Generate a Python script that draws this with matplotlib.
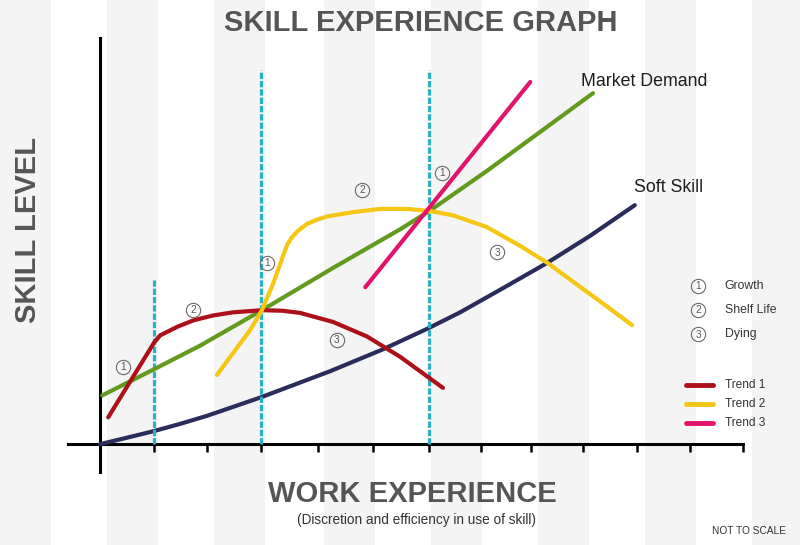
import matplotlib
matplotlib.use("Agg")
import matplotlib.pyplot as plt
from matplotlib import font_manager
from matplotlib.patches import Rectangle

# ---------------- data (chart units: 1 unit = one x tick) ----------------
tick_x = [1.01, 2.00, 3.00, 4.07, 5.10, 6.14, 7.11, 8.04, 9.01, 10.02, 11.01, 12.00]
phase_x = [1.01, 3.00, 6.14]
phase_top = [3.06, 6.98, 6.98]

market_x = [0.04, 1.01, 1.87, 3.02, 4.35, 5.60, 6.16, 7.22, 8.45, 9.20]
market_y = [0.91, 1.40, 1.84, 2.50, 3.29, 4.01, 4.36, 5.10, 6.00, 6.55]

soft_x = [0.00, 0.50, 0.99, 1.50, 2.00, 2.99, 4.29, 5.28, 6.12, 6.72, 7.50, 8.34, 9.15, 9.98]
soft_y = [0.00, 0.12, 0.24, 0.38, 0.53, 0.87, 1.36, 1.77, 2.16, 2.46, 2.90, 3.38, 3.89, 4.46]

trend1_x = [0.15, 1.01, 1.12, 1.44, 1.74, 2.10, 2.48, 3.02, 3.40, 3.73, 4.35, 4.98, 5.60, 6.40]
trend1_y = [0.50, 1.90, 2.03, 2.19, 2.31, 2.40, 2.46, 2.50, 2.49, 2.45, 2.28, 2.01, 1.63, 1.05]

trend2_x = [2.18, 2.48, 2.80, 3.02, 3.23, 3.42, 3.49, 3.58, 3.68, 3.86, 4.05, 4.24, 4.72, 5.23,
            5.73, 6.16, 6.59, 7.22, 7.84, 8.34, 8.83, 9.46, 9.93]
trend2_y = [1.29, 1.70, 2.13, 2.50, 3.00, 3.53, 3.72, 3.86, 3.97, 4.11, 4.19, 4.25, 4.33, 4.39,
            4.39, 4.35, 4.27, 4.05, 3.70, 3.39, 3.03, 2.57, 2.22]

trend3_x = [4.95, 8.03]
trend3_y = [2.93, 6.76]

stage_num = ["1", "2", "1", "2", "3", "1", "3"]
stage_x = [0.43, 1.74, 3.12, 4.89, 4.42, 6.38, 7.41]
stage_y = [1.44, 2.50, 3.38, 4.74, 1.94, 5.06, 3.58]

stage_legend_num = ["1", "2", "3"]
stage_legend_txt = ["Growth", "Shelf Life", "Dying"]
trend_names = ["Trend 1", "Trend 2", "Trend 3"]

# ---------------- style ----------------
C_GREEN = "#629a1e"
C_NAVY = "#2a2c5c"
C_RED = "#ad1018"
C_YELLOW = "#f5c614"
C_PINK = "#e2136a"
C_CYAN = "#2cb0c4"
C_TITLE = "#555555"
C_TEXT = "#1c1c1c"

names = {f.name for f in font_manager.fontManager.ttflist}
NARROW = "Liberation Sans Narrow" in names
nfam = ["Liberation Sans Narrow", "Liberation Sans", "DejaVu Sans"] if NARROW else ["Liberation Sans", "DejaVu Sans"]
nk = 1.0 / 0.82 if NARROW else 1.0
rfam = ["Liberation Sans", "DejaVu Sans"]

W, H = 800, 545
fig = plt.figure(figsize=(W / 100, H / 100), dpi=100)
fig.patch.set_facecolor("white")

# background stripes
for s in [0, 107, 214, 324, 431, 538, 645, 752]:
    fig.patches.append(Rectangle((s / W, 0), 51 / W, 1, transform=fig.transFigure,
                                 facecolor="#f4f4f4", edgecolor="none", zorder=-5))

# axes: x from -0.6 to 12, y from -0.52 to 7.58, 53.58 px per unit
ax = fig.add_axes([68 / W, 1 - 472 / H, 675 / W, 434 / H])
ax.set_zorder(2)
ax.set_xlim(-0.6, 12.0)
ax.set_ylim(-0.52, 7.58)
ax.patch.set_alpha(0)
for sp in ["top", "right"]:
    ax.spines[sp].set_visible(False)
for sp in ["left", "bottom"]:
    ax.spines[sp].set_position(("data", 0))
    ax.spines[sp].set_linewidth(2.2)
    ax.spines[sp].set_color("black")
ax.set_xticks(tick_x)
ax.set_xticklabels([])
ax.set_yticks([])
ax.tick_params(axis="x", direction="out", length=6, width=1.8, color="black")

lw = 3.0
kw = dict(solid_capstyle="round", solid_joinstyle="round", clip_on=False)
ax.plot(soft_x, soft_y, color=C_NAVY, lw=lw, zorder=3, **kw)
ax.vlines(phase_x, 0, phase_top, colors=C_CYAN, linestyles=(0, (2.0, 0.6)), lw=2.3, zorder=4)
ax.plot(market_x, market_y, color=C_GREEN, lw=lw, zorder=5, **kw)
ax.plot(trend1_x, trend1_y, color=C_RED, lw=lw, zorder=6, **kw)
ax.plot(trend2_x, trend2_y, color=C_YELLOW, lw=lw, zorder=7, **kw)
ax.plot(trend3_x, trend3_y, color=C_PINK, lw=lw, zorder=8, **kw)

def circled(x, y, n):
    ax.plot([x], [y], marker="o", ms=10.3, mfc="none", mec="#6a6a6a", mew=0.8,
            zorder=9, clip_on=False)
    ax.text(x, y - 0.005, n, ha="center", va="center", fontsize=7.2, color="#555555",
            family=rfam, zorder=10)

for n, x, y in zip(stage_num, stage_x, stage_y):
    circled(x, y, n)

# stage legend
leg_y = [2.95, 2.50, 2.05]
for n, t, y in zip(stage_legend_num, stage_legend_txt, leg_y):
    circled(11.16, y, n)
    ax.text(11.66, y, t, ha="left", va="center", fontsize=8.8 * nk, color="#333333",
            family=nfam)

# trend legend
tr_y = [1.10, 0.75, 0.39]
for name, c, y in zip(trend_names, [C_RED, C_YELLOW, C_PINK], tr_y):
    ax.plot([10.94, 11.44], [y, y], color=c, lw=3.5, solid_capstyle="round", clip_on=False)
    ax.text(11.66, y, name, ha="left", va="center", fontsize=8.6 * nk, color="#333333",
            family=nfam)

# line labels
fig.text(581 / W, 1 - 82 / H, "Market Demand", ha="left", va="center", fontsize=12.8,
         color=C_TEXT, family=rfam)
fig.text(634 / W, 1 - 188 / H, "Soft Skill", ha="left", va="center", fontsize=12.8,
         color=C_TEXT, family=rfam)

# titles
fig.text(420.5 / W, 1 - 23 / H, "SKILL EXPERIENCE GRAPH", ha="center", va="center",
         fontsize=21, fontweight="bold", color=C_TITLE, family=rfam)
fig.text(28 / W, 1 - 230 / H, "SKILL LEVEL", ha="center", va="center", rotation=90,
         fontsize=21, fontweight="bold", color=C_TITLE, family=rfam)
fig.text(412 / W, 1 - 494 / H, "WORK EXPERIENCE", ha="center", va="center",
         fontsize=21, fontweight="bold", color=C_TITLE, family=rfam)
fig.text(416.5 / W, 1 - 520 / H, "(Discretion and efficiency in use of skill)",
         ha="center", va="center", fontsize=9.8 * nk, color="#333333", family=nfam)
fig.text(749 / W, 1 - 531 / H, "NOT TO SCALE", ha="center", va="center",
         fontsize=7.3 * nk, color="#333333", family=nfam)

fig.savefig("out.png", dpi=100, facecolor="white")
